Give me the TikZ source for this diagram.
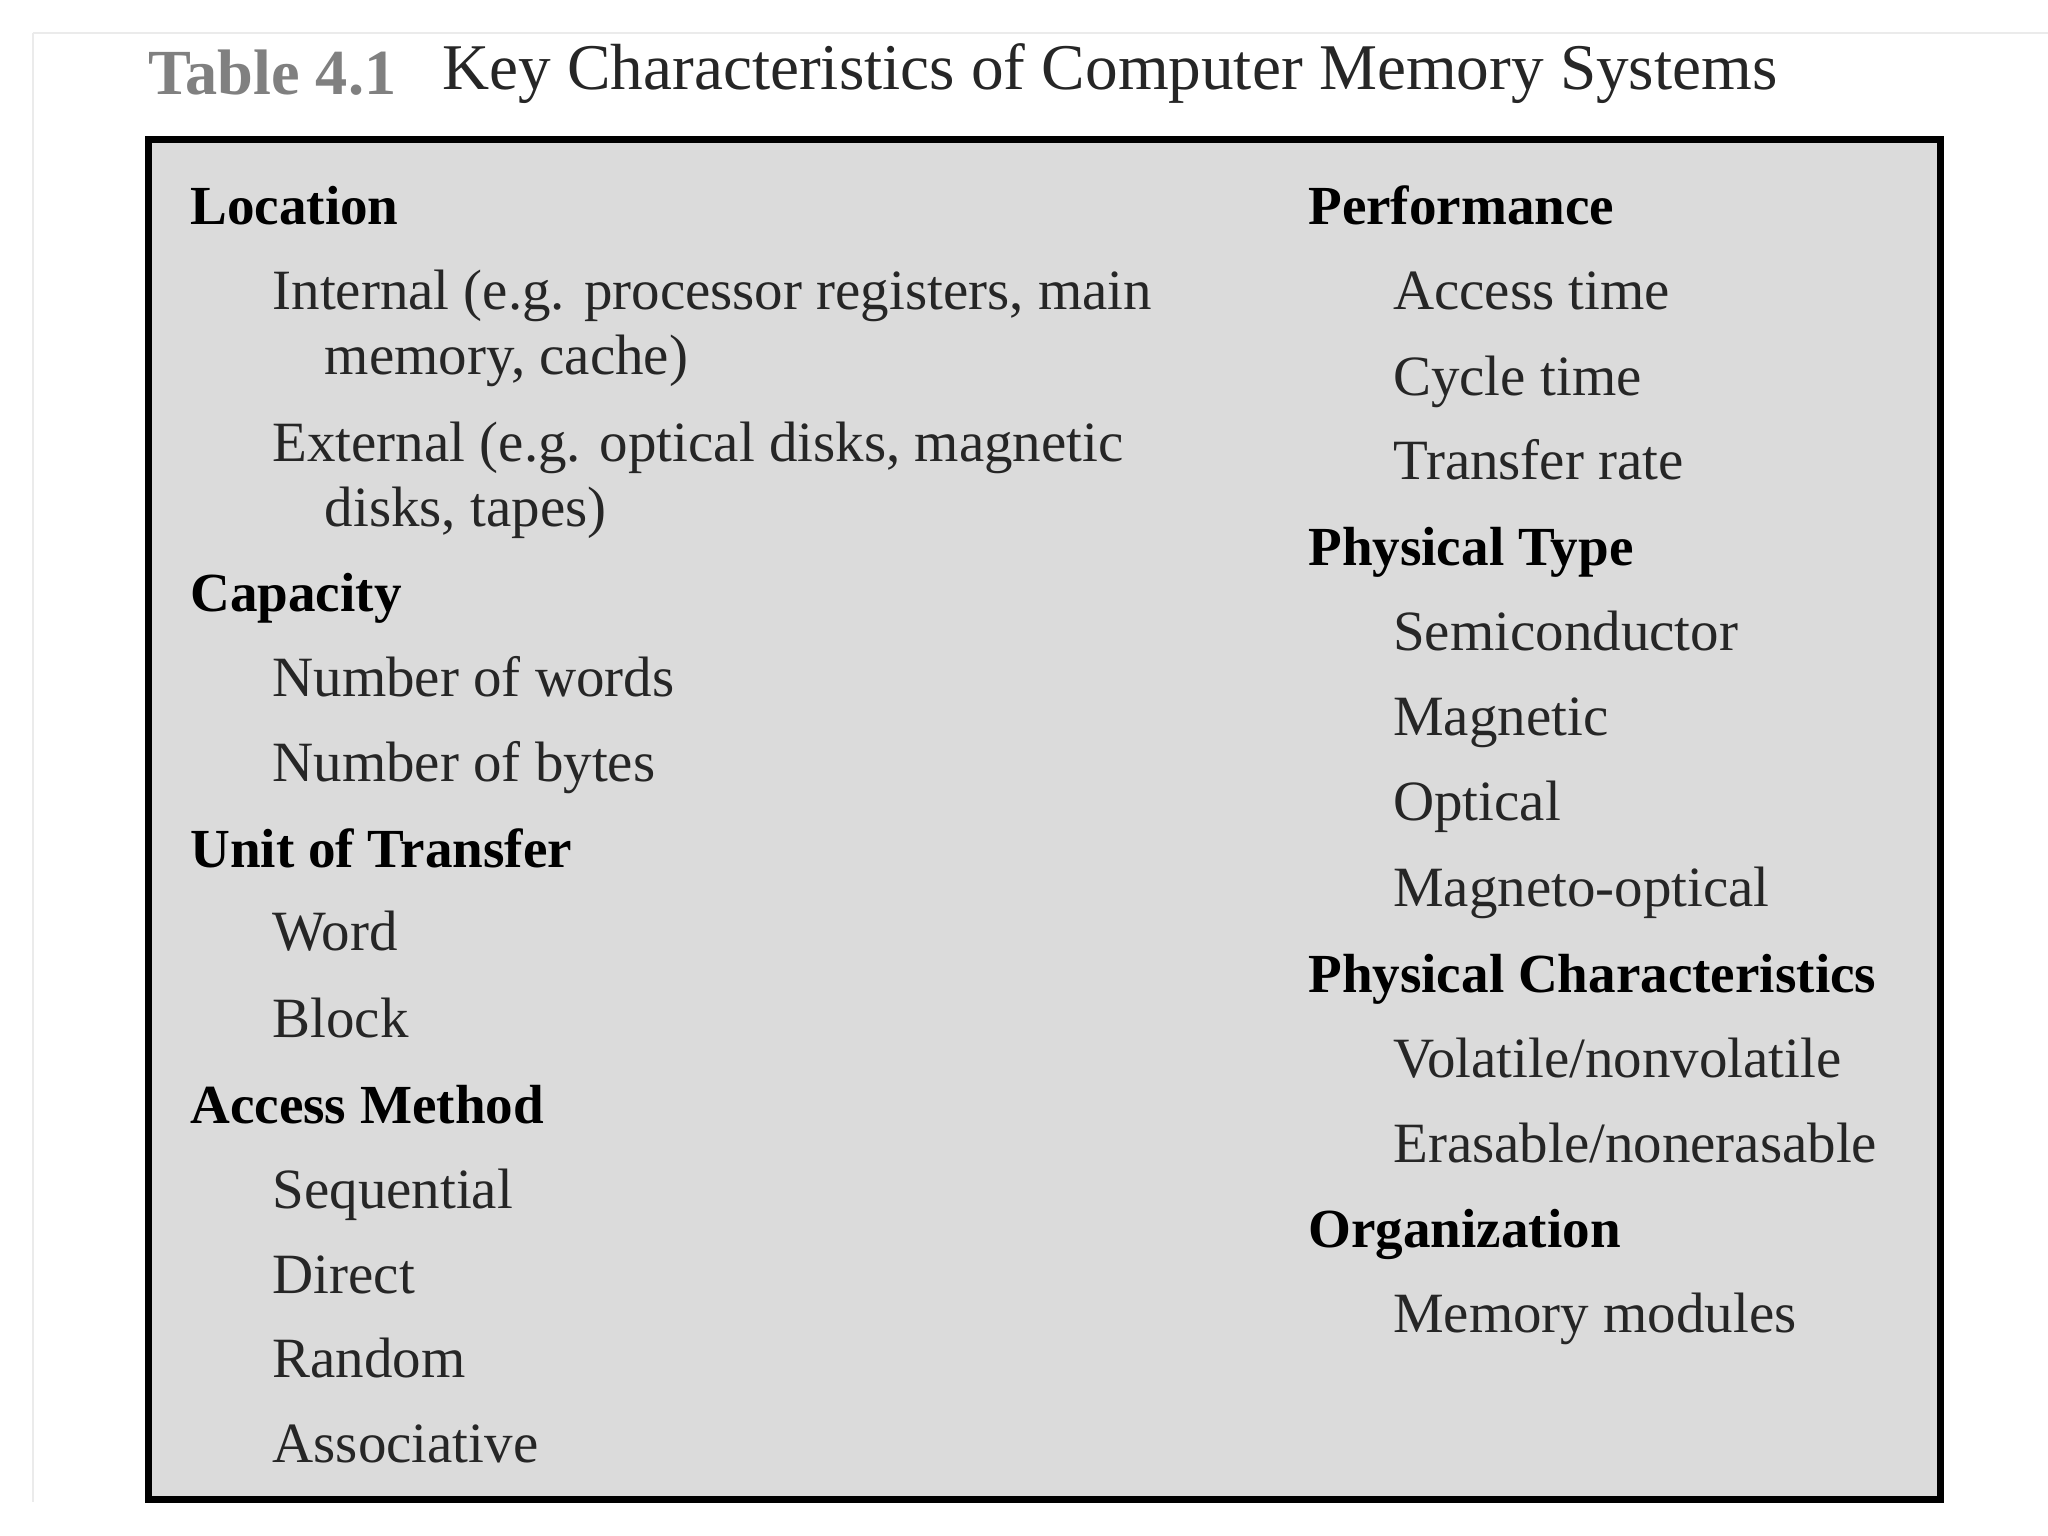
\documentclass[tikz,border=0pt]{standalone}
\usepackage{fontspec}
\setmainfont{Liberation Serif}
\begin{document}
\begin{tikzpicture}[x=0.01cm,y=-0.01cm,
  hd/.style={anchor=base west,inner sep=0pt,yshift=-0.03cm,font=\fontsize{12pt}{14pt}\selectfont\bfseries},
  it/.style={anchor=base west,inner sep=0pt,yshift=-0.03cm,font=\fontsize{12.4pt}{14pt}\selectfont,text=black!85}]
\useasboundingbox (0,0) rectangle (1568,1176);
\fill[white] (0,0) rectangle (1568,1176);
\draw[black!8] (25,25) -- (1568,25) (25,25) -- (25,1150);
\node[anchor=west,inner sep=0pt,font=\fontsize{14pt}{17pt}\selectfont\bfseries,text=black!50] (tn) at (113,56) {Table 4.1};
\node[anchor=west,inner sep=0pt,font=\fontsize{14.2pt}{17pt}\selectfont,text=black!85] (tt) at (338,56) {Key Characteristics of Computer Memory Systems};
\coordinate (bnw) at (114,107);
\coordinate (bse) at (1486,1148);
\draw[black,line width=0.055cm,fill=black!14] (bnw) rectangle (bse);
\node[hd] (l1) at (145,169) {Location};
\node[it] (l2) at (208,234) {Internal (e.g. processor registers, main};
\node[it] (l3) at (248,284) {memory, cache)};
\node[it] (l4) at (208,350) {External (e.g. optical disks, magnetic};
\node[it] (l5) at (248,400) {disks, tapes)};
\node[hd] (l6) at (145,465) {Capacity};
\node[it] (l7) at (208,530) {Number of words};
\node[it] (l8) at (208,595) {Number of bytes};
\node[hd] (l9) at (145,661) {Unit of Transfer};
\node[it] (l10) at (208,725) {Word};
\node[it] (l11) at (208,791) {Block};
\node[hd] (l12) at (145,857) {Access Method};
\node[it] (l13) at (208,922) {Sequential};
\node[it] (l14) at (208,987) {Direct};
\node[it] (l15) at (208,1052) {Random};
\node[it] (l16) at (208,1117) {Associative};
\node[hd] (r1) at (1001,169) {Performance};
\node[it] (r2) at (1066,234) {Access time};
\node[it] (r3) at (1066,300) {Cycle time};
\node[it] (r4) at (1066,364) {Transfer rate};
\node[hd] (r5) at (1001,430) {Physical Type};
\node[it] (r6) at (1066,495) {Semiconductor};
\node[it] (r7) at (1066,560) {Magnetic};
\node[it] (r8) at (1066,625) {Optical};
\node[it] (r9) at (1066,691) {Magneto-optical};
\node[hd] (r10) at (1001,757) {Physical Characteristics};
\node[it] (r11) at (1066,822) {Volatile/nonvolatile};
\node[it] (r12) at (1066,887) {Erasable/nonerasable};
\node[hd] (r13) at (1001,952) {Organization};
\node[it] (r14) at (1066,1017) {Memory modules};
\end{tikzpicture}
\end{document}
